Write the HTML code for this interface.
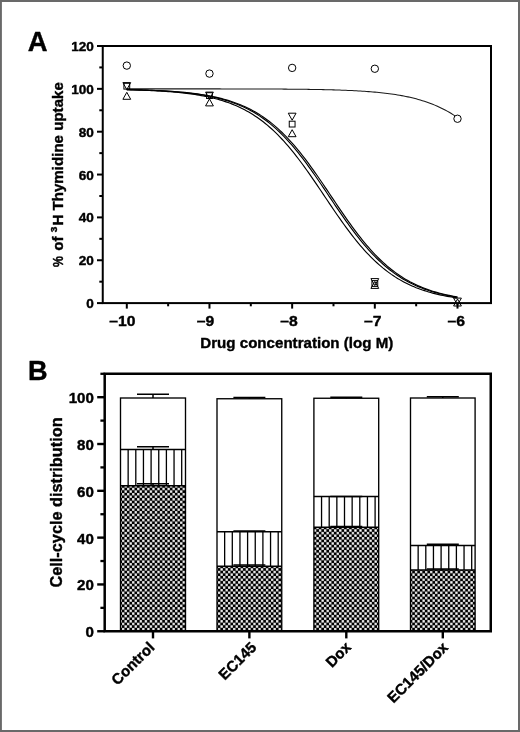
<!DOCTYPE html>
<html><head><meta charset="utf-8"><title>Figure</title>
<style>html,body{margin:0;padding:0;background:#fff}body{width:520px;height:732px;overflow:hidden}svg{display:block}text{font-family:"Liberation Sans",Arial,Helvetica,sans-serif;font-weight:bold;fill:#000;stroke:#000;stroke-width:0.4px;stroke-linejoin:round}</style></head><body>
<svg width="520" height="732" viewBox="0 0 520 732">
<defs><pattern id="chk" x="119.4" y="396.9" width="5.05" height="5.19" patternUnits="userSpaceOnUse"><rect width="5.05" height="5.19" fill="#000"/><rect x="0.1" y="0.1" width="2.26" height="2.33" fill="#fff"/><rect x="2.625" y="2.695" width="2.26" height="2.33" fill="#fff"/></pattern></defs>
<rect width="520" height="732" fill="#fff"/>
<rect x="0" y="0" width="520" height="2" fill="#696969"/><rect x="0" y="730" width="520" height="2" fill="#696969"/><rect x="0" y="0" width="1.9" height="732" fill="#696969"/><rect x="518" y="0" width="2" height="732" fill="#696969"/>
<text transform="translate(27.7 51.2) scale(1.0 1)" font-size="27.4">A</text>
<text transform="translate(28.0 380.1) scale(0.99 1)" font-size="27.4">B</text>
<g fill="none" stroke="#000">
<rect x="102.75" y="46.0" width="388.25" height="257.1" stroke-width="2"/>
<line x1="97" x2="102.75" y1="303.10" y2="303.10" stroke-width="2"/>
<line x1="97" x2="102.75" y1="260.25" y2="260.25" stroke-width="2"/>
<line x1="97" x2="102.75" y1="217.40" y2="217.40" stroke-width="2"/>
<line x1="97" x2="102.75" y1="174.55" y2="174.55" stroke-width="2"/>
<line x1="97" x2="102.75" y1="131.70" y2="131.70" stroke-width="2"/>
<line x1="97" x2="102.75" y1="88.85" y2="88.85" stroke-width="2"/>
<line x1="97" x2="102.75" y1="46.00" y2="46.00" stroke-width="2"/>
<line x1="99.3" x2="102.75" y1="281.68" y2="281.68" stroke-width="2"/>
<line x1="99.3" x2="102.75" y1="238.83" y2="238.83" stroke-width="2"/>
<line x1="99.3" x2="102.75" y1="195.98" y2="195.98" stroke-width="2"/>
<line x1="99.3" x2="102.75" y1="153.13" y2="153.13" stroke-width="2"/>
<line x1="99.3" x2="102.75" y1="110.28" y2="110.28" stroke-width="2"/>
<line x1="99.3" x2="102.75" y1="67.42" y2="67.42" stroke-width="2"/>
<line x1="126.80" x2="126.80" y1="303.1" y2="308.6" stroke-width="2"/>
<line x1="209.47" x2="209.47" y1="303.1" y2="308.6" stroke-width="2"/>
<line x1="292.15" x2="292.15" y1="303.1" y2="308.6" stroke-width="2"/>
<line x1="374.82" x2="374.82" y1="303.1" y2="308.6" stroke-width="2"/>
<line x1="457.50" x2="457.50" y1="303.1" y2="308.6" stroke-width="2"/>
<line x1="168.14" x2="168.14" y1="303.1" y2="306.3" stroke-width="2"/>
<line x1="250.81" x2="250.81" y1="303.1" y2="306.3" stroke-width="2"/>
<line x1="333.49" x2="333.49" y1="303.1" y2="306.3" stroke-width="2"/>
<line x1="416.16" x2="416.16" y1="303.1" y2="306.3" stroke-width="2"/>
<path d="M126.80 88.85 L128.87 88.85 L130.93 88.85 L133.00 88.85 L135.07 88.85 L137.13 88.85 L139.20 88.85 L141.27 88.85 L143.33 88.86 L145.40 88.86 L147.47 88.86 L149.54 88.86 L151.60 88.86 L153.67 88.86 L155.74 88.86 L157.80 88.86 L159.87 88.86 L161.94 88.86 L164.00 88.86 L166.07 88.86 L168.14 88.86 L170.20 88.86 L172.27 88.86 L174.34 88.86 L176.40 88.86 L178.47 88.86 L180.54 88.86 L182.61 88.87 L184.67 88.87 L186.74 88.87 L188.81 88.87 L190.87 88.87 L192.94 88.87 L195.01 88.87 L197.07 88.87 L199.14 88.87 L201.21 88.88 L203.27 88.88 L205.34 88.88 L207.41 88.88 L209.47 88.88 L211.54 88.89 L213.61 88.89 L215.68 88.89 L217.74 88.89 L219.81 88.89 L221.88 88.90 L223.94 88.90 L226.01 88.90 L228.08 88.91 L230.14 88.91 L232.21 88.91 L234.28 88.92 L236.34 88.92 L238.41 88.92 L240.48 88.93 L242.55 88.93 L244.61 88.94 L246.68 88.94 L248.75 88.95 L250.81 88.95 L252.88 88.96 L254.95 88.97 L257.01 88.97 L259.08 88.98 L261.15 88.99 L263.21 89.00 L265.28 89.01 L267.35 89.02 L269.41 89.03 L271.48 89.04 L273.55 89.05 L275.62 89.06 L277.68 89.07 L279.75 89.08 L281.82 89.10 L283.88 89.11 L285.95 89.13 L288.02 89.15 L290.08 89.16 L292.15 89.18 L294.22 89.20 L296.28 89.22 L298.35 89.24 L300.42 89.27 L302.48 89.29 L304.55 89.32 L306.62 89.35 L308.69 89.37 L310.75 89.41 L312.82 89.44 L314.89 89.47 L316.95 89.51 L319.02 89.55 L321.09 89.59 L323.15 89.63 L325.22 89.68 L327.29 89.73 L329.35 89.78 L331.42 89.84 L333.49 89.89 L335.55 89.96 L337.62 90.02 L339.69 90.09 L341.75 90.16 L343.82 90.24 L345.89 90.32 L347.96 90.41 L350.02 90.50 L352.09 90.60 L354.16 90.70 L356.22 90.81 L358.29 90.92 L360.36 91.05 L362.42 91.17 L364.49 91.31 L366.56 91.45 L368.62 91.61 L370.69 91.77 L372.76 91.94 L374.82 92.12 L376.89 92.31 L378.96 92.51 L381.03 92.72 L383.09 92.95 L385.16 93.19 L387.23 93.44 L389.29 93.70 L391.36 93.98 L393.43 94.28 L395.49 94.59 L397.56 94.92 L399.63 95.27 L401.69 95.64 L403.76 96.03 L405.83 96.44 L407.90 96.87 L409.96 97.33 L412.03 97.81 L414.10 98.32 L416.16 98.85 L418.23 99.42 L420.30 100.01 L422.36 100.64 L424.43 101.29 L426.50 101.99 L428.56 102.71 L430.63 103.48 L432.70 104.28 L434.76 105.13 L436.83 106.02 L438.90 106.95 L440.96 107.92 L443.03 108.95 L445.10 110.02 L447.17 111.14 L449.23 112.32 L451.30 113.55 L453.37 114.84 L455.43 116.18 L457.50 117.58" stroke-width="1.05" stroke="#1a1a1a"/>
<path d="M126.80 89.72 L128.87 89.77 L130.93 89.82 L133.00 89.88 L135.07 89.94 L137.13 90.01 L139.20 90.08 L141.27 90.15 L143.33 90.22 L145.40 90.31 L147.47 90.39 L149.54 90.48 L151.60 90.58 L153.67 90.68 L155.74 90.79 L157.80 90.90 L159.87 91.02 L161.94 91.15 L164.00 91.28 L166.07 91.42 L168.14 91.57 L170.20 91.73 L172.27 91.90 L174.34 92.08 L176.40 92.27 L178.47 92.47 L180.54 92.68 L182.61 92.90 L184.67 93.14 L186.74 93.39 L188.81 93.65 L190.87 93.93 L192.94 94.22 L195.01 94.53 L197.07 94.86 L199.14 95.20 L201.21 95.57 L203.27 95.95 L205.34 96.36 L207.41 96.78 L209.47 97.24 L211.54 97.71 L213.61 98.22 L215.68 98.74 L217.74 99.30 L219.81 99.89 L221.88 100.51 L223.94 101.16 L226.01 101.84 L228.08 102.56 L230.14 103.32 L232.21 104.12 L234.28 104.96 L236.34 105.83 L238.41 106.76 L240.48 107.72 L242.55 108.74 L244.61 109.80 L246.68 110.92 L248.75 112.08 L250.81 113.30 L252.88 114.58 L254.95 115.91 L257.01 117.30 L259.08 118.75 L261.15 120.26 L263.21 121.83 L265.28 123.47 L267.35 125.18 L269.41 126.95 L271.48 128.78 L273.55 130.69 L275.62 132.66 L277.68 134.70 L279.75 136.81 L281.82 138.99 L283.88 141.23 L285.95 143.54 L288.02 145.92 L290.08 148.36 L292.15 150.87 L294.22 153.43 L296.28 156.06 L298.35 158.74 L300.42 161.48 L302.48 164.27 L304.55 167.11 L306.62 169.99 L308.69 172.91 L310.75 175.87 L312.82 178.86 L314.89 181.87 L316.95 184.91 L319.02 187.97 L321.09 191.05 L323.15 194.13 L325.22 197.21 L327.29 200.29 L329.35 203.36 L331.42 206.42 L333.49 209.47 L335.55 212.49 L337.62 215.49 L339.69 218.45 L341.75 221.38 L343.82 224.27 L345.89 227.12 L347.96 229.92 L350.02 232.66 L352.09 235.36 L354.16 238.00 L356.22 240.57 L358.29 243.09 L360.36 245.55 L362.42 247.94 L364.49 250.26 L366.56 252.52 L368.62 254.71 L370.69 256.83 L372.76 258.89 L374.82 260.87 L376.89 262.79 L378.96 264.64 L381.03 266.42 L383.09 268.14 L385.16 269.79 L387.23 271.38 L389.29 272.90 L391.36 274.37 L393.43 275.77 L395.49 277.11 L397.56 278.40 L399.63 279.63 L401.69 280.81 L403.76 281.93 L405.83 283.00 L407.90 284.03 L409.96 285.00 L412.03 285.93 L414.10 286.82 L416.16 287.67 L418.23 288.47 L420.30 289.24 L422.36 289.96 L424.43 290.66 L426.50 291.31 L428.56 291.94 L430.63 292.53 L432.70 293.10 L434.76 293.63 L436.83 294.14 L438.90 294.62 L440.96 295.08 L443.03 295.51 L445.10 295.92 L447.17 296.31 L449.23 296.68 L451.30 297.03 L453.37 297.36 L455.43 297.67 L457.50 297.97" stroke-width="1.15"/>
<path d="M126.80 89.62 L128.87 89.66 L130.93 89.71 L133.00 89.76 L135.07 89.81 L137.13 89.87 L139.20 89.93 L141.27 89.99 L143.33 90.06 L145.40 90.13 L147.47 90.21 L149.54 90.29 L151.60 90.37 L153.67 90.46 L155.74 90.56 L157.80 90.66 L159.87 90.76 L161.94 90.88 L164.00 91.00 L166.07 91.12 L168.14 91.25 L170.20 91.40 L172.27 91.54 L174.34 91.70 L176.40 91.87 L178.47 92.04 L180.54 92.23 L182.61 92.43 L184.67 92.64 L186.74 92.86 L188.81 93.09 L190.87 93.33 L192.94 93.59 L195.01 93.87 L197.07 94.16 L199.14 94.47 L201.21 94.79 L203.27 95.13 L205.34 95.49 L207.41 95.87 L209.47 96.27 L211.54 96.70 L213.61 97.14 L215.68 97.62 L217.74 98.11 L219.81 98.64 L221.88 99.19 L223.94 99.77 L226.01 100.38 L228.08 101.03 L230.14 101.70 L232.21 102.42 L234.28 103.17 L236.34 103.96 L238.41 104.79 L240.48 105.66 L242.55 106.57 L244.61 107.53 L246.68 108.53 L248.75 109.59 L250.81 110.69 L252.88 111.84 L254.95 113.05 L257.01 114.32 L259.08 115.64 L261.15 117.02 L263.21 118.45 L265.28 119.95 L267.35 121.51 L269.41 123.14 L271.48 124.83 L273.55 126.59 L275.62 128.41 L277.68 130.30 L279.75 132.26 L281.82 134.29 L283.88 136.38 L285.95 138.54 L288.02 140.78 L290.08 143.07 L292.15 145.44 L294.22 147.87 L296.28 150.36 L298.35 152.92 L300.42 155.53 L302.48 158.20 L304.55 160.93 L306.62 163.71 L308.69 166.54 L310.75 169.41 L312.82 172.32 L314.89 175.27 L316.95 178.26 L319.02 181.27 L321.09 184.30 L323.15 187.36 L325.22 190.43 L327.29 193.51 L329.35 196.59 L331.42 199.67 L333.49 202.75 L335.55 205.81 L337.62 208.86 L339.69 211.89 L341.75 214.89 L343.82 217.86 L345.89 220.80 L347.96 223.70 L350.02 226.55 L352.09 229.36 L354.16 232.12 L356.22 234.82 L358.29 237.47 L360.36 240.06 L362.42 242.59 L364.49 245.06 L366.56 247.47 L368.62 249.80 L370.69 252.07 L372.76 254.28 L374.82 256.41 L376.89 258.48 L378.96 260.48 L381.03 262.41 L383.09 264.28 L385.16 266.07 L387.23 267.80 L389.29 269.47 L391.36 271.07 L393.43 272.60 L395.49 274.08 L397.56 275.49 L399.63 276.85 L401.69 278.15 L403.76 279.39 L405.83 280.57 L407.90 281.71 L409.96 282.79 L412.03 283.83 L414.10 284.81 L416.16 285.75 L418.23 286.65 L420.30 287.50 L422.36 288.31 L424.43 289.09 L426.50 289.82 L428.56 290.52 L430.63 291.19 L432.70 291.82 L434.76 292.42 L436.83 292.99 L438.90 293.53 L440.96 294.04 L443.03 294.53 L445.10 294.99 L447.17 295.43 L449.23 295.84 L451.30 296.23 L453.37 296.61 L455.43 296.96 L457.50 297.29" stroke-width="1.15"/>
<path d="M126.80 89.57 L128.87 89.62 L130.93 89.66 L133.00 89.71 L135.07 89.76 L137.13 89.81 L139.20 89.87 L141.27 89.93 L143.33 89.99 L145.40 90.06 L147.47 90.13 L149.54 90.21 L151.60 90.29 L153.67 90.37 L155.74 90.46 L157.80 90.56 L159.87 90.66 L161.94 90.76 L164.00 90.88 L166.07 91.00 L168.14 91.12 L170.20 91.25 L172.27 91.40 L174.34 91.54 L176.40 91.70 L178.47 91.87 L180.54 92.04 L182.61 92.23 L184.67 92.43 L186.74 92.64 L188.81 92.86 L190.87 93.09 L192.94 93.33 L195.01 93.59 L197.07 93.87 L199.14 94.16 L201.21 94.47 L203.27 94.79 L205.34 95.13 L207.41 95.49 L209.47 95.87 L211.54 96.27 L213.61 96.70 L215.68 97.14 L217.74 97.62 L219.81 98.11 L221.88 98.64 L223.94 99.19 L226.01 99.77 L228.08 100.38 L230.14 101.03 L232.21 101.70 L234.28 102.42 L236.34 103.17 L238.41 103.96 L240.48 104.79 L242.55 105.66 L244.61 106.57 L246.68 107.53 L248.75 108.53 L250.81 109.59 L252.88 110.69 L254.95 111.84 L257.01 113.05 L259.08 114.32 L261.15 115.64 L263.21 117.02 L265.28 118.45 L267.35 119.95 L269.41 121.51 L271.48 123.14 L273.55 124.83 L275.62 126.59 L277.68 128.41 L279.75 130.30 L281.82 132.26 L283.88 134.29 L285.95 136.38 L288.02 138.54 L290.08 140.78 L292.15 143.07 L294.22 145.44 L296.28 147.87 L298.35 150.36 L300.42 152.92 L302.48 155.53 L304.55 158.20 L306.62 160.93 L308.69 163.71 L310.75 166.54 L312.82 169.41 L314.89 172.32 L316.95 175.27 L319.02 178.26 L321.09 181.27 L323.15 184.30 L325.22 187.36 L327.29 190.43 L329.35 193.51 L331.42 196.59 L333.49 199.67 L335.55 202.75 L337.62 205.81 L339.69 208.86 L341.75 211.89 L343.82 214.89 L345.89 217.86 L347.96 220.80 L350.02 223.70 L352.09 226.55 L354.16 229.36 L356.22 232.12 L358.29 234.82 L360.36 237.47 L362.42 240.06 L364.49 242.59 L366.56 245.06 L368.62 247.47 L370.69 249.80 L372.76 252.07 L374.82 254.28 L376.89 256.41 L378.96 258.48 L381.03 260.48 L383.09 262.41 L385.16 264.28 L387.23 266.07 L389.29 267.80 L391.36 269.47 L393.43 271.07 L395.49 272.60 L397.56 274.08 L399.63 275.49 L401.69 276.85 L403.76 278.15 L405.83 279.39 L407.90 280.57 L409.96 281.71 L412.03 282.79 L414.10 283.83 L416.16 284.81 L418.23 285.75 L420.30 286.65 L422.36 287.50 L424.43 288.31 L426.50 289.09 L428.56 289.82 L430.63 290.52 L432.70 291.19 L434.76 291.82 L436.83 292.42 L438.90 292.99 L440.96 293.53 L443.03 294.04 L445.10 294.53 L447.17 294.99 L449.23 295.43 L451.30 295.84 L453.37 296.23 L455.43 296.61 L457.50 296.96" stroke-width="1.15"/>
</g>
<g fill="#fff" stroke="#000" stroke-width="1">
<circle cx="126.80" cy="65.60" r="3.7"/>
<circle cx="209.47" cy="73.60" r="3.7"/>
<circle cx="292.15" cy="67.90" r="3.7"/>
<circle cx="374.82" cy="68.75" r="3.7"/>
<circle cx="457.50" cy="118.75" r="3.7"/>
<rect x="123.90" y="83.30" width="5.8" height="5.8" fill="none"/>
<rect x="206.57" y="92.70" width="5.8" height="5.8" fill="none"/>
<rect x="289.25" y="121.20" width="5.8" height="5.8" fill="none"/>
<rect x="371.93" y="280.60" width="5.8" height="5.8" fill="none"/>
<path d="M122.90 82.60H130.70L126.80 89.60Z" fill="none"/>
<path d="M205.57 92.10H213.38L209.47 99.10Z" fill="none"/>
<path d="M288.25 113.20H296.05L292.15 120.20Z" fill="none"/>
<path d="M370.93 278.60H378.72L374.82 285.60Z" fill="none"/>
<path d="M453.60 298.10H461.40L457.50 305.10Z" fill="none"/>
<path d="M122.90 99.30H130.70L126.80 92.30Z" fill="none"/>
<path d="M205.57 105.90H213.38L209.47 98.90Z" fill="none"/>
<path d="M288.25 136.70H296.05L292.15 129.70Z" fill="none"/>
<path d="M370.93 288.40H378.72L374.82 281.40Z" fill="none"/>
<path d="M453.60 306.00H461.40L457.50 299.00Z" fill="none"/>
</g>
<text transform="translate(93.85 308.10) scale(1.035 1)" font-size="13.1" text-anchor="end">0</text>
<text transform="translate(93.85 265.25) scale(1.035 1)" font-size="13.1" text-anchor="end">20</text>
<text transform="translate(93.85 222.40) scale(1.035 1)" font-size="13.1" text-anchor="end">40</text>
<text transform="translate(93.85 179.55) scale(1.035 1)" font-size="13.1" text-anchor="end">60</text>
<text transform="translate(93.85 136.70) scale(1.035 1)" font-size="13.1" text-anchor="end">80</text>
<text transform="translate(93.85 93.85) scale(1.035 1)" font-size="13.1" text-anchor="end">100</text>
<text transform="translate(93.85 51.00) scale(1.035 1)" font-size="13.1" text-anchor="end">120</text>
<text transform="translate(109.34 325.95) scale(1.09 1)" font-size="14.4">–10</text>
<text transform="translate(196.82 325.95) scale(1.09 1)" font-size="14.4">–9</text>
<text transform="translate(280.33 325.95) scale(1.09 1)" font-size="14.4">–8</text>
<text transform="translate(364.12 325.95) scale(1.09 1)" font-size="14.4">–7</text>
<text transform="translate(447.53 325.95) scale(1.09 1)" font-size="14.4">–6</text>
<text transform="translate(200.3 348.0) scale(0.975 1)" font-size="15.5">Drug concentration (log M)</text>
<g transform="translate(62.5 0) rotate(-90)" font-size="15.1">
<text transform="translate(-266.9 0) scale(0.82 1)" font-size="15" font-weight="normal" stroke-width="0.2">%</text>
<text x="-250.8" y="0">of</text>
<text transform="translate(-232.2 -5.5) scale(1.2 1)" font-size="8.3" stroke-width="0.15">3</text>
<text x="-225.58" y="0">H Thymidine uptake</text>
</g>
<g fill="none" stroke="#000">
<path d="M137.00 394.25H169.00M153.00 394.25V398.00" stroke-width="1.5"/>
<path d="M137.00 446.75H169.00M153.00 446.75V449.50" stroke-width="1.5"/>
<path d="M137.00 483.75H169.00M153.00 483.75V485.75" stroke-width="1.5"/>
<rect x="120.50" y="485.75" width="65.00" height="145.50" fill="url(#chk)" stroke="none"/>
<rect x="120.50" y="398.00" width="65.00" height="233.25" stroke-width="1.35"/>
<path d="M120.50 449.50H185.50M120.50 485.75H185.50" stroke-width="1.35"/>
<path d="M128.15 449.50V485.75M135.80 449.50V485.75M143.45 449.50V485.75M151.10 449.50V485.75M158.75 449.50V485.75M166.40 449.50V485.75M174.05 449.50V485.75M181.70 449.50V485.75" stroke-width="1.3"/>
<path d="M233.38 397.60H265.38M249.38 397.60V398.75" stroke-width="1.5"/>
<path d="M233.38 531.00H265.38M249.38 531.00V531.75" stroke-width="1.5"/>
<path d="M233.38 565.00H265.38M249.38 565.00V566.25" stroke-width="1.5"/>
<rect x="217.00" y="566.25" width="64.75" height="65.00" fill="url(#chk)" stroke="none"/>
<rect x="217.00" y="398.75" width="64.75" height="232.50" stroke-width="1.35"/>
<path d="M217.00 531.75H281.75M217.00 566.25H281.75" stroke-width="1.35"/>
<path d="M224.65 531.75V566.25M232.30 531.75V566.25M239.95 531.75V566.25M247.60 531.75V566.25M255.25 531.75V566.25M262.90 531.75V566.25M270.55 531.75V566.25M278.20 531.75V566.25" stroke-width="1.3"/>
<path d="M330.30 397.20H362.30M346.30 397.20V398.25" stroke-width="1.5"/>
<path d="M330.30 496.50H362.30M346.30 496.50V496.50" stroke-width="1.5"/>
<path d="M330.30 526.40H362.30M346.30 526.40V527.20" stroke-width="1.5"/>
<rect x="313.90" y="527.20" width="64.80" height="104.05" fill="url(#chk)" stroke="none"/>
<rect x="313.90" y="398.25" width="64.80" height="233.00" stroke-width="1.35"/>
<path d="M313.90 496.50H378.70M313.90 527.20H378.70" stroke-width="1.35"/>
<path d="M321.55 496.50V527.20M329.20 496.50V527.20M336.85 496.50V527.20M344.50 496.50V527.20M352.15 496.50V527.20M359.80 496.50V527.20M367.45 496.50V527.20M375.10 496.50V527.20" stroke-width="1.3"/>
<path d="M426.80 396.80H458.80M442.80 396.80V398.00" stroke-width="1.5"/>
<path d="M426.80 544.25H458.80M442.80 544.25V545.50" stroke-width="1.5"/>
<path d="M426.80 569.00H458.80M442.80 569.00V570.00" stroke-width="1.5"/>
<rect x="410.50" y="570.00" width="64.60" height="61.25" fill="url(#chk)" stroke="none"/>
<rect x="410.50" y="398.00" width="64.60" height="233.25" stroke-width="1.35"/>
<path d="M410.50 545.50H475.10M410.50 570.00H475.10" stroke-width="1.35"/>
<path d="M418.15 545.50V570.00M425.80 545.50V570.00M433.45 545.50V570.00M441.10 545.50V570.00M448.75 545.50V570.00M456.40 545.50V570.00M464.05 545.50V570.00M471.70 545.50V570.00" stroke-width="1.3"/>
<rect x="104.7" y="373.75" width="386.05" height="257.5" stroke-width="2.5"/>
<line x1="97.2" x2="104.7" y1="631.25" y2="631.25" stroke-width="2.4"/>
<line x1="97.2" x2="104.7" y1="584.44" y2="584.44" stroke-width="2.4"/>
<line x1="97.2" x2="104.7" y1="537.63" y2="537.63" stroke-width="2.4"/>
<line x1="97.2" x2="104.7" y1="490.82" y2="490.82" stroke-width="2.4"/>
<line x1="97.2" x2="104.7" y1="444.01" y2="444.01" stroke-width="2.4"/>
<line x1="97.2" x2="104.7" y1="397.20" y2="397.20" stroke-width="2.4"/>
<line x1="100.4" x2="104.7" y1="607.85" y2="607.85" stroke-width="2.3"/>
<line x1="100.4" x2="104.7" y1="561.03" y2="561.03" stroke-width="2.3"/>
<line x1="100.4" x2="104.7" y1="514.23" y2="514.23" stroke-width="2.3"/>
<line x1="100.4" x2="104.7" y1="467.41" y2="467.41" stroke-width="2.3"/>
<line x1="100.4" x2="104.7" y1="420.61" y2="420.61" stroke-width="2.3"/>
<line x1="100.4" x2="104.7" y1="373.80" y2="373.80" stroke-width="2.3"/>
<line x1="153.00" x2="153.00" y1="631.25" y2="638.4" stroke-width="2.4"/>
<line x1="249.38" x2="249.38" y1="631.25" y2="638.4" stroke-width="2.4"/>
<line x1="346.30" x2="346.30" y1="631.25" y2="638.4" stroke-width="2.4"/>
<line x1="442.80" x2="442.80" y1="631.25" y2="638.4" stroke-width="2.4"/>
</g>
<text transform="translate(93.9 637.20) scale(1.045 1)" font-size="14.45" text-anchor="end">0</text>
<text transform="translate(93.9 590.39) scale(1.045 1)" font-size="14.45" text-anchor="end">20</text>
<text transform="translate(93.9 543.58) scale(1.045 1)" font-size="14.45" text-anchor="end">40</text>
<text transform="translate(93.9 496.77) scale(1.045 1)" font-size="14.45" text-anchor="end">60</text>
<text transform="translate(93.9 449.96) scale(1.045 1)" font-size="14.45" text-anchor="end">80</text>
<text transform="translate(93.9 403.15) scale(1.045 1)" font-size="14.45" text-anchor="end">100</text>
<text transform="translate(62.15 587.5) rotate(-90)" font-size="16.3">Cell-cycle distribution</text>
<text transform="translate(117.62 685.92) rotate(-45)" font-size="15">Control</text>
<text transform="translate(224.85 680.75) rotate(-45)" font-size="15">EC145</text>
<text transform="translate(331.95 668.2) rotate(-45)" font-size="15">Dox</text>
<text transform="translate(393.6 703.85) rotate(-45)" font-size="15">EC145/Dox</text>
</svg></body></html>
